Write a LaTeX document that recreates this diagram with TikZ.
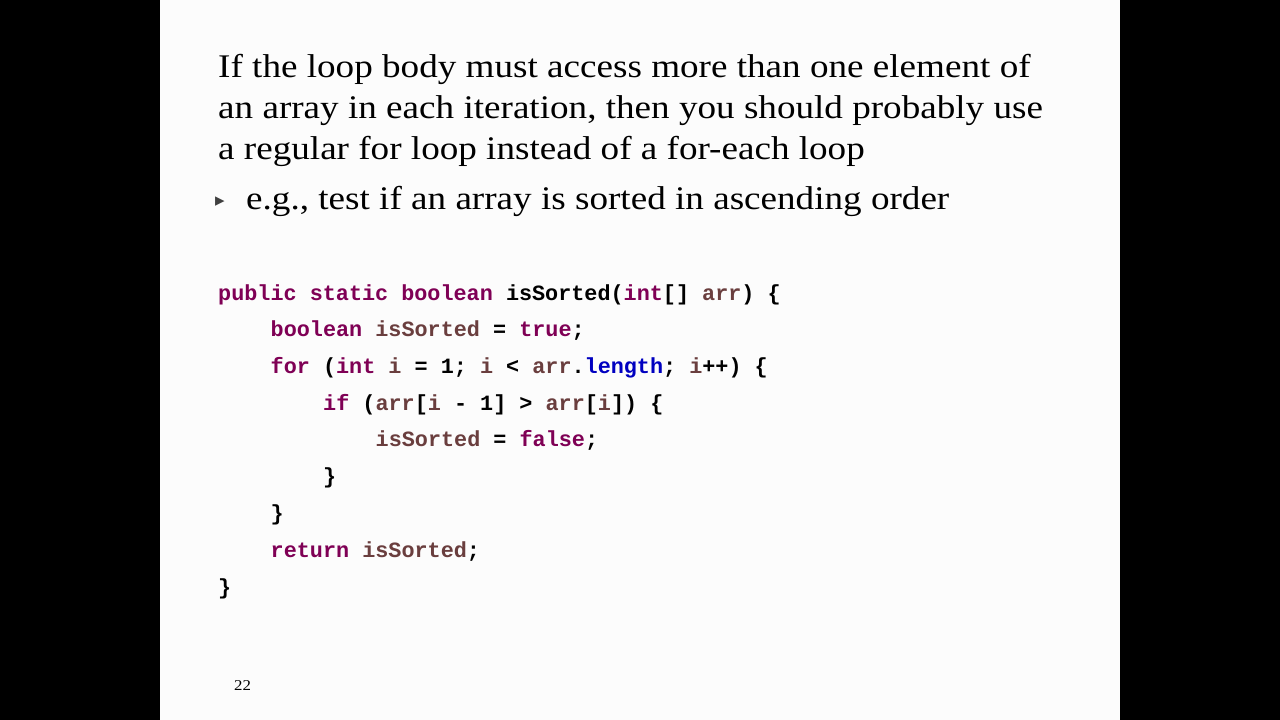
\documentclass[tikz,border=0pt]{standalone}
\usepackage{fontspec}
\setmainfont{Liberation Serif}[FakeStretch=1.125]
\setmonofont{Liberation Mono}
\newfontfamily\symf{DejaVu Sans}
\definecolor{kw}{HTML}{7F0055}
\definecolor{vr}{HTML}{6A3E3E}
\definecolor{fl}{HTML}{0000C0}
\newcommand{\K}[1]{\textcolor{kw}{#1}}
\newcommand{\V}[1]{\textcolor{vr}{#1}}
\begin{document}
\begin{tikzpicture}[x=1pt,y=-1pt,
  title/.style={anchor=base west,inner sep=0,font=\fontsize{33}{36}\selectfont},
  code/.style={anchor=base west,inner sep=0,font=\fontsize{21.8}{24}\selectfont\ttfamily\bfseries}]
\useasboundingbox (0,0) rectangle (1280,720);
\fill[black] (0,0) rectangle (1280,720);
\fill[white!98!gray] (160,0) rectangle (1120,720);
\node[title] (t1) at (218,77) {If the loop body must access more than one element of};
\node[title] (t2) at (218,118) {an array in each iteration, then you should probably use};
\node[title] (t3) at (218,159) {a regular for loop instead of a for-each loop};
\node[anchor=base west,inner sep=0,font=\symf\fontsize{19}{20}\selectfont,text=black!75] (b) at (215,206) {▸};
\node[title] (t4) at (246,209) {e.g., test if an array is sorted in ascending order};
\node[code] (c1) at (218,300) {\K{public static boolean} isSorted(\K{int}[] \V{arr}) \{};
\node[code] (c2) at (270.5,336) {\K{boolean} \V{isSorted} = \K{true};};
\node[code] (c3) at (270.5,373) {\K{for} (\K{int} \V{i} = 1; \V{i} < \V{arr}.\textcolor{fl}{length}; \V{i}++) \{};
\node[code] (c4) at (323,410) {\K{if} (\V{arr}[\V{i} - 1] > \V{arr}[\V{i}]) \{};
\node[code] (c5) at (375.5,446) {\V{isSorted} = \K{false};};
\node[code] (c6) at (323,483) {\}};
\node[code] (c7) at (270.5,520) {\}};
\node[code] (c8) at (270.5,557) {\K{return} \V{isSorted};};
\node[code] (c9) at (218,594) {\}};
\node[anchor=base west,inner sep=0,font=\fontsize{15}{16}\selectfont] (n) at (234,690) {22};
\end{tikzpicture}
\end{document}
